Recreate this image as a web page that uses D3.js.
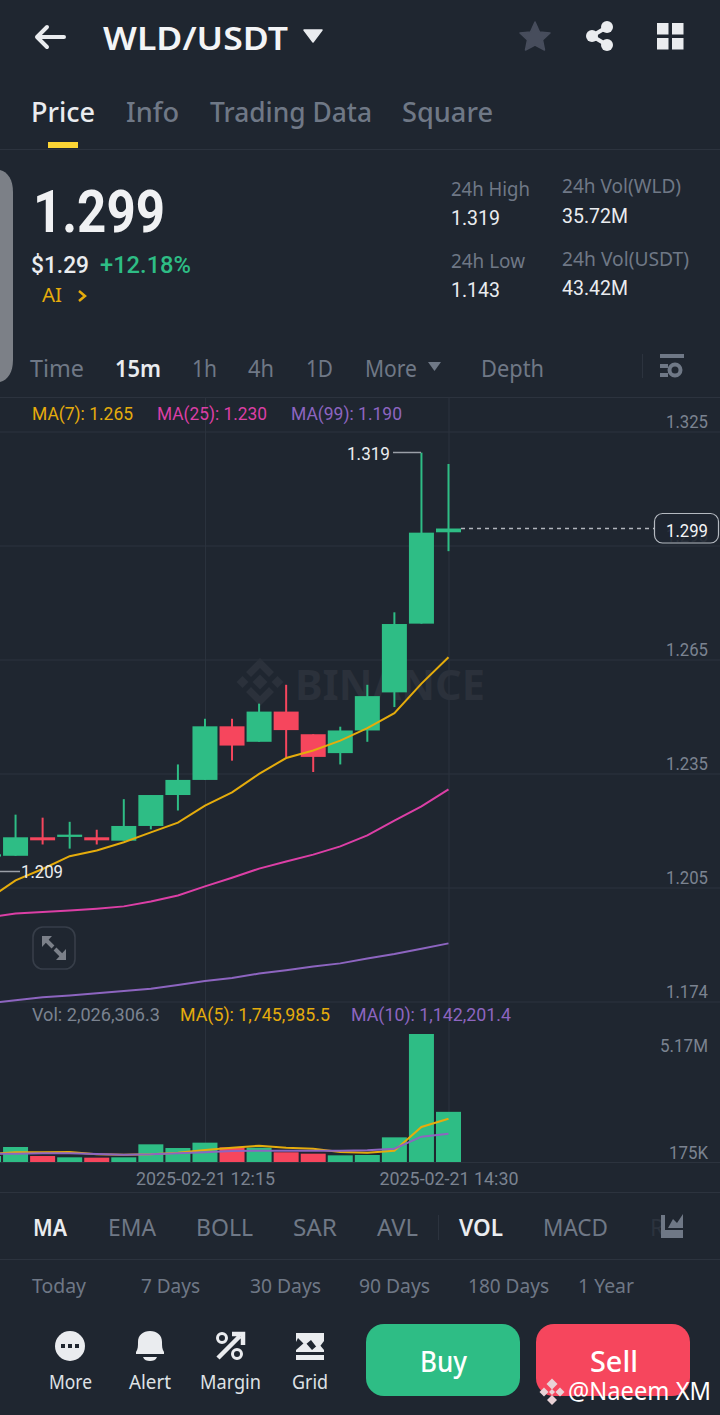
<!DOCTYPE html>
<html><head><meta charset="utf-8"><title>WLD/USDT</title>
<script src="https://cdn.jsdelivr.net/npm/d3@7"></script>
<style>html,body{margin:0;padding:0;background:#1f2630;overflow:hidden}svg{display:block}</style>
</head><body><svg id="c" width="720" height="1415"></svg>
<script>
// ---------- data ----------
const candleTimes = ["10:15","10:30","10:45","11:00","11:15","11:30","11:45","12:00","12:15","12:30","12:45","13:00","13:15","13:30","13:45","14:00","14:15","14:30"];
const opens  = [1.2124,1.2126,1.2175,1.2176,1.2175,1.2166,1.2205,1.2287,1.2327,1.2469,1.2428,1.2508,1.2448,1.2398,1.2458,1.2559,1.2741,1.2983];
const closes = [1.2130,1.2175,1.2167,1.2182,1.2167,1.2205,1.2287,1.2327,1.2469,1.2418,1.2508,1.2459,1.2388,1.2458,1.2549,1.2740,1.2982,1.2993];
const highs  = [1.2165,1.2235,1.2227,1.2216,1.2195,1.2276,1.2287,1.2368,1.2489,1.2489,1.2529,1.2579,1.2448,1.2468,1.2579,1.2771,1.3194,1.3164];
const lows   = [1.2090,1.2126,1.2156,1.2145,1.2156,1.2166,1.2196,1.2246,1.2327,1.2378,1.2428,1.2387,1.2348,1.2368,1.2428,1.2520,1.2741,1.2933];
const ma7  = [1.2012,1.2061,1.2091,1.2125,1.2140,1.2162,1.2188,1.2214,1.2259,1.2294,1.2343,1.2385,1.2405,1.2431,1.2464,1.2504,1.2582,1.2652];
const ma25 = [1.1963,1.1973,1.1977,1.1981,1.1986,1.1992,1.2005,1.2021,1.2045,1.2068,1.2092,1.2111,1.2129,1.2151,1.2180,1.2219,1.2257,1.2302];
const ma99 = [1.1736,1.1743,1.1751,1.1756,1.1762,1.1768,1.1774,1.1784,1.1794,1.1802,1.1814,1.1823,1.1833,1.1841,1.1854,1.1866,1.1880,1.1894];
const volumes = [242e3,606e3,242e3,189e3,175e3,189e3,714e3,565e3,781e3,592e3,579e3,392e3,336e3,269e3,283e3,996e3,5170e3,2026306];
const volMa5  = [323e3,391e3,397e3,404e3,310e3,296e3,310e3,377e3,485e3,578e3,658e3,578e3,537e3,404e3,376e3,456e3,1414e3,1745985];
const volMa10 = [323e3,336e3,350e3,350e3,323e3,296e3,310e3,350e3,391e3,444e3,458e3,458e3,458e3,458e3,471e3,538e3,1023e3,1142201];
const priceTicks = [1.325,1.2948,1.2646,1.2344,1.2042,1.174];
const priceTickLabels = ["1.325","1.295","1.265","1.235","1.205","1.174"];
const dateTicks = ["12:15","14:30"];
const tabs = ["Price","Info","Trading Data","Square"];
const intervals = ["Time","15m","1h","4h","1D","More","Depth"];
const indicators = ["MA","EMA","BOLL","SAR","AVL","VOL","MACD"];
const periods = ["Today","7 Days","30 Days","90 Days","180 Days","1 Year"];
const actions = ["More","Alert","Margin","Grid"];

// ---------- palette ----------
const BG="#1f2630",GRID="#2c333e",GREEN="#2ebd85",RED="#f6465d",YEL="#e5ac0c",PINK="#dc3fa6",PUR="#8d65c0",WHITE="#eaecef",DIM="#6f7886",AX="#7b8390";
const FONT="'Noto Sans',sans-serif", NUM="Roboto,sans-serif";
const svg=d3.select("#c");
svg.append("rect").attr("width",720).attr("height",1415).attr("fill",BG);

function T(str,x,y,size,fill,w,opt={}){
  const t=(opt.g||svg).append("text").text(str).attr("x",x).attr("y",y-1)
   .attr("font-family",opt.font||FONT).attr("font-size",size).attr("fill",fill)
   .attr("font-weight",opt.weight||400).attr("dominant-baseline","central")
   .attr("text-anchor",opt.anchor||"start");
  if(w){t.attr("textLength",w).attr("lengthAdjust",opt.adjust||"spacingAndGlyphs");}
  return t;
}
function hline(y,x1=0,x2=720,c=GRID,sw=1){svg.append("line").attr("x1",x1).attr("x2",x2).attr("y1",y).attr("y2",y).attr("stroke",c).attr("stroke-width",sw);}
const P=(d,f,extra={})=>{const p=svg.append("path").attr("d",d).attr("fill",f);for(const k in extra)p.attr(k,extra[k]);return p;};

// ---------- header ----------
P("M37 37H64M37 37L47 27M37 37L47 47","none",{stroke:WHITE,"stroke-width":4,"stroke-linecap":"round","stroke-linejoin":"round"});
T("WLD/USDT",103,38,33,"#f3f4f6",185,{weight:600});
P("M304 30H322L313 42Z",WHITE,{stroke:WHITE,"stroke-width":1.5,"stroke-linejoin":"round"});
P("M535 22L539.5 32L550 33L542.5 40L544.5 50L535 45L525.5 50L527.5 40L520 33L530.5 32Z","#474d5c",{stroke:"#474d5c","stroke-width":1.5,"stroke-linejoin":"round"});
P("M607 27L592 36L607 45","none",{stroke:WHITE,"stroke-width":4});
[[607,27,6],[592,36,6],[607,45,6]].forEach(c=>svg.append("circle").attr("cx",c[0]).attr("cy",c[1]).attr("r",c[2]).attr("fill",WHITE));
[[657,23],[672,23],[657,38],[672,38]].forEach(c=>svg.append("rect").attr("x",c[0]).attr("y",c[1]).attr("width",11.5).attr("height",11.5).attr("fill",WHITE));

const tabX=[31,126,210,402],tabW=[64,53,162,91];
tabs.forEach((s,i)=>T(s,tabX[i],112.5,27,i?DIM:WHITE,tabW[i],{weight:500}));
svg.append("rect").attr("x",48).attr("y",142).attr("width",30).attr("height",6).attr("fill","#fcd535");
hline(149.5);

// ---------- left handle ----------
P("M0 170C8 172 13 180 13 192V360C13 372 8 380 0 382Z","#7c8087");

// ---------- price summary ----------
T("1.299",33,212,59,"#f0f1f3",132,{weight:700,font:NUM});
T("$1.29",31,266,23,WHITE,58,{weight:500,font:NUM});
T("+12.18%",100,266,23,GREEN,91,{weight:500,font:NUM});
T("AI",42,296,19,YEL,20);
P("M79 291L85 296L79 301","none",{stroke:YEL,"stroke-width":2.5});
T("24h High",451,189,20,DIM,79);
T("1.319",451,218.5,20,WHITE,49,{font:NUM});
T("24h Vol(WLD)",562,186,20,DIM,119);
T("35.72M",562,216.5,20,WHITE,66,{font:NUM});
T("24h Low",451,261,20,DIM,74);
T("1.143",451,290.5,20,WHITE,49,{font:NUM});
T("24h Vol(USDT)",562,259,20,DIM,127);
T("43.42M",562,288.5,20,WHITE,66,{font:NUM});

// ---------- interval tabs ----------
const intX=[30,115,192,248,306,365,481],intW=[54,46,25,26,27,52,63];
intervals.forEach((s,i)=>T(s,intX[i],368,24,i==1?WHITE:DIM,intW[i],{weight:i==1?600:400}));
P("M428 362H441L434.5 371Z",DIM);
svg.append("line").attr("x1",642.5).attr("x2",642.5).attr("y1",354).attr("y2",378).attr("stroke",GRID);
P("M660 354H684V358H660ZM660 364H668V368H660ZM660 373H668V377H660Z",DIM);
svg.append("circle").attr("cx",675).attr("cy",370).attr("r",5.5).attr("fill","none").attr("stroke",DIM).attr("stroke-width",4);
hline(397.5);

// ---------- scales ----------
const dt=s=>new Date("2025-02-21T"+s+":00Z");
const times=candleTimes.map(dt);
const x=d3.scaleUtc().domain([times[0],times[times.length-1]]).range([-11.5,448.5]);
const y=d3.scaleLinear().domain([1.174,1.325]).range([1001.5,431.5]);
const v=d3.scaleLinear().domain([0,5170e3]).range([1162,1034]);

// price grid + axis
const ay=svg.append("g").attr("transform","translate(720,0)")
 .call(d3.axisLeft(y).tickValues(priceTicks).tickSize(720).tickFormat((d,i)=>priceTickLabels[i]));
ay.select(".domain").remove();
ay.selectAll("line").attr("stroke",GRID);
ay.selectAll("text").attr("x",-12).attr("y",-10.5).attr("dy",0).attr("font-family",NUM).attr("font-size",18)
  .attr("fill",AX).attr("dominant-baseline","central").attr("textLength",42).attr("lengthAdjust","spacingAndGlyphs");
hline(1162.5);

// time axis
const ax=svg.append("g").attr("transform","translate(0,1162.5)")
 .call(d3.axisBottom(x).tickValues(dateTicks.map(dt)).tickSizeInner(-765).tickSizeOuter(0).tickFormat(d3.utcFormat("2025-02-21 %H:%M")));
ax.select(".domain").remove();
ax.selectAll("line").attr("stroke",GRID);
ax.selectAll("text").attr("y",15.5).attr("dy",0).attr("font-family",NUM).attr("font-size",18).attr("fill",AX)
  .attr("dominant-baseline","central").attr("textLength",139).attr("lengthAdjust","spacingAndGlyphs");

// watermark
const wm=svg.append("g").attr("fill","#2b313b");
wm.append("path").attr("d","M260 658L274 672L269 677L260 668L251 677L246 672Z");
wm.append("path").attr("d","M260 706L274 692L269 687L260 696L251 687L246 692Z");
[[260,682,7.5],[242.5,682,6],[277.5,682,6]].forEach(c=>wm.append("path").attr("d",`M${c[0]} ${c[1]-c[2]}L${c[0]+c[2]} ${c[1]}L${c[0]} ${c[1]+c[2]}L${c[0]-c[2]} ${c[1]}Z`));
T("BINANCE",295,684,42,"#2b313b",190,{weight:700,g:wm});

// ---------- candles ----------
const bw=25;
const cg=svg.append("g");
candleTimes.forEach((_,i)=>{
  const up=closes[i]>=opens[i],col=up?GREEN:RED,cx=x(times[i]);
  cg.append("line").attr("x1",cx).attr("x2",cx).attr("y1",y(highs[i])).attr("y2",y(lows[i])).attr("stroke",col).attr("stroke-width",2);
  const t=y(Math.max(opens[i],closes[i])),b=y(Math.min(opens[i],closes[i]));
  cg.append("rect").attr("x",cx-bw/2).attr("y",t).attr("width",bw).attr("height",Math.max(b-t,2)).attr("fill",col);
});
const lineP=d3.line().x((d,i)=>x(times[i])).y(d=>y(d));
[[ma99,PUR],[ma25,PINK],[ma7,YEL]].forEach(([d,c])=>svg.append("path").attr("d",lineP(d)).attr("fill","none").attr("stroke",c).attr("stroke-width",2));

// annotations
T("MA(7): 1.265",32,414,18,YEL,101,{font:NUM});
T("MA(25): 1.230",157,414,18,PINK,110,{font:NUM});
T("MA(99): 1.190",291,414,18,PUR,111,{font:NUM});
T("1.319",347,454,18,WHITE,43,{font:NUM});
P("M393 452.5H421",'none',{stroke:"#9a9fa7","stroke-width":1.5});
T("1.209",21,872,18,WHITE,42,{font:NUM});
P("M0 871.5H20",'none',{stroke:"#9a9fa7","stroke-width":1.5});
svg.append("line").attr("x1",461).attr("x2",655).attr("y1",y(closes[17])).attr("y2",y(closes[17])).attr("stroke","#b0b5bc").attr("stroke-width",1.5).attr("stroke-dasharray","4 4");
svg.append("rect").attr("x",654.5).attr("y",513.5).attr("width",64).attr("height",29.5).attr("rx",8).attr("fill",BG).attr("fill-opacity",.88).attr("stroke","#b4b9c0").attr("stroke-width",1.2);
T("1.299",666,531.5,18,"#f3f4f6",42,{font:NUM});

// expand button
svg.append("rect").attr("x",33).attr("y",927).attr("width",42).attr("height",42).attr("rx",10).attr("fill","none").attr("stroke","#373e49").attr("stroke-width",1.6);
P("M42 936H52L42 947Z","#7b8089");
P("M66 960H56L66 949Z","#7b8089");
P("M46 940L53 947M62 956L55 949","none",{stroke:"#7b8089","stroke-width":4});

// ---------- volume ----------
T("Vol: 2,026,306.3",32,1015,18,AX,128,{font:NUM});
T("MA(5): 1,745,985.5",180,1015,18,YEL,150,{font:NUM});
T("MA(10): 1,142,201.4",351,1015,18,PUR,160,{font:NUM});
svg.append("g").selectAll("rect").data(volumes).join("rect")
 .attr("x",(d,i)=>x(times[i])-bw/2).attr("width",bw).attr("y",d=>v(d)).attr("height",d=>v(0)-v(d))
 .attr("fill",(d,i)=>closes[i]>=opens[i]?GREEN:RED);
const lineV=d3.line().x((d,i)=>x(times[i])).y(d=>v(d));
[[volMa5,YEL],[volMa10,PUR]].forEach(([d,c])=>svg.append("path").attr("d",lineV(d)).attr("fill","none").attr("stroke",c).attr("stroke-width",2));
T("5.17M",660,1046,18,AX,48,{font:NUM});
T("175K",669,1153,18,AX,39,{font:NUM});
hline(1192.5);

// ---------- indicator tabs ----------
const indX=[33,108,196,293,377,459,543],indW=[34,48,57,44,41,44,65];
indicators.forEach((s,i)=>{const on=i==0||i==5;T(s,indX[i],1228,23,on?WHITE:DIM,indW[i],{weight:on?600:400});});
svg.append("line").attr("x1",438.5).attr("x2",438.5).attr("y1",1215).attr("y2",1240).attr("stroke",GRID);
T("R",650,1228,23,"#2c333e",null);
P("M661 1215H665V1230H683V1238H661ZM668 1228L673 1219L677 1223L683 1214V1228Z",DIM);
hline(1259.5);
const perX=[32,141,250,359,468,578],perW=[54,59,71,71,81,56];
periods.forEach((s,i)=>T(s,perX[i],1286,20,DIM,perW[i]));

// ---------- bottom actions ----------
const actX=[70.5,150,230.5,310],actW=[43,42,61,36];
actions.forEach((s,i)=>T(s,actX[i]-actW[i]/2,1382,20,"#dfe2e6",actW[i]));
svg.append("circle").attr("cx",70).attr("cy",1346).attr("r",15).attr("fill",WHITE);
[62,69,76].forEach(px=>svg.append("rect").attr("x",px-1).attr("y",1344).attr("width",4).attr("height",4).attr("fill",BG));
P("M136 1352C138 1349 138 1346 138 1342C138 1335 143 1331 150 1331C157 1331 162 1335 162 1342C162 1346 162 1349 164 1352V1354H136ZM143 1357H157C156 1360 153 1361 150 1361C147 1361 144 1360 143 1357Z",WHITE);
P("M218 1358L240 1336M232 1334H243V1345","none",{stroke:WHITE,"stroke-width":4.5});
[[222,1338],[237,1354]].forEach(c=>{svg.append("circle").attr("cx",c[0]).attr("cy",c[1]).attr("r",4.5).attr("fill","none").attr("stroke",WHITE).attr("stroke-width",3);});
P("M296 1333H324V1341L318 1349L311 1340L305 1345L298 1338L296 1342ZM296 1350L305 1342L312 1350L319 1344L324 1350V1352H296ZM296 1355H324V1360H296Z",WHITE);
svg.append("rect").attr("x",366).attr("y",1324).attr("width",154).attr("height",72).attr("rx",18).attr("fill",GREEN);
svg.append("rect").attr("x",536).attr("y",1324).attr("width",154).attr("height",72).attr("rx",18).attr("fill",RED);
T("Buy",420,1362,28,"#ffffff",47,{weight:500});
T("Sell",590,1362,28,"#ffffff",48,{weight:500});

// ---------- overlay watermark ----------
[[552,1384,5.5,"#e9d2d6"],[552,1400,5,"#e9d2d6"],[544,1392,4.5,"#e9d2d6"],[560,1392,4.5,"#e9d2d6"],[552,1392,3,"#e9d2d6"]].forEach(c=>
  P(`M${c[0]} ${c[1]-c[2]}L${c[0]+c[2]} ${c[1]}L${c[0]} ${c[1]+c[2]}L${c[0]-c[2]} ${c[1]}Z`,c[3]));
T("@Naeem XM",568,1391,25,"#ffffff",143);
</script></body></html>
